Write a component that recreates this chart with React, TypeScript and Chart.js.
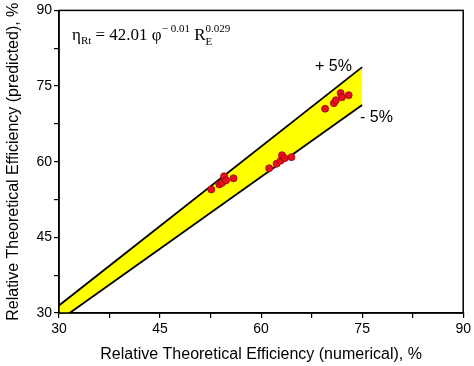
import React, { useEffect, useRef } from "react";
import { Chart, registerables } from "chart.js";

Chart.register(...registerables);

// ±5% band (x = numerical, y = predicted)
const bandX = [30, 75];
const upperY = [31.5, 78.75];
const lowerY = [28.5, 71.25];

// data points: numerical vs predicted efficiency (%)
const numerical = [52.6, 53.8, 54.2, 54.5, 54.8, 55.9, 61.2, 62.3, 62.9, 63.1, 63.5, 64.5, 69.5, 70.8, 71.1, 71.8, 72.0, 73.0];
const predicted = [54.5, 55.5, 55.8, 57.1, 56.3, 56.7, 58.7, 59.6, 60.2, 61.3, 60.7, 60.9, 70.5, 71.6, 72.2, 73.6, 72.8, 73.2];

const axisTicks = [30, 45, 60, 75, 90];

const frameAndText = {
  id: "frameAndText",
  afterDraw(chart: any) {
    const { ctx, chartArea: a } = chart;
    ctx.save();
    ctx.strokeStyle = "#000";
    ctx.lineWidth = 1.5;
    ctx.strokeRect(a.left, a.top, a.right - a.left, a.bottom - a.top);

    // equation
    const main = "17px 'Liberation Serif', 'Times New Roman', serif";
    const small = "11px 'Liberation Serif', 'Times New Roman', serif";
    ctx.fillStyle = "#000";
    ctx.textBaseline = "alphabetic";
    ctx.textAlign = "left";
    let x = 72;
    const base = 40;
    const put = (t: string, font: string, dy: number) => {
      ctx.font = font;
      ctx.fillText(t, x, base + dy);
      x += ctx.measureText(t).width;
    };
    put("η", main, 0);
    put("Rt", small, 4);
    put(" = 42.01 φ", main, 0);
    put("− 0.01", small, -8);
    put(" R", main, 0);
    const sx = x;
    ctx.font = small;
    ctx.fillText("E", sx, base + 5);
    ctx.fillText("0.029", sx, base - 8);

    // band labels
    ctx.font = "16px 'Liberation Sans', Arial, sans-serif";
    ctx.fillText("+ 5%", 315, 71);
    ctx.fillText("- 5%", 360, 122);
    ctx.restore();
  },
};

export default function App() {
  const ref = useRef<HTMLCanvasElement>(null);
  useEffect(() => {
    const tickFont = { family: "'Liberation Sans', Arial, sans-serif", size: 14 };
    const titleFont = { family: "'Liberation Sans', Arial, sans-serif", size: 16 };
    const buildTicks = (s: any) => {
      const t: any[] = [];
      for (let i = 0; i < axisTicks.length; i++) {
        t.push({ value: axisTicks[i] });
        if (i < axisTicks.length - 1) t.push({ value: (axisTicks[i] + axisTicks[i + 1]) / 2 });
      }
      s.ticks = t;
    };
    const chart = new Chart(ref.current!, {
      type: "scatter",
      data: {
        datasets: [
          {
            label: "lower",
            data: bandX.map((x, i) => ({ x, y: lowerY[i] })),
            showLine: true,
            borderColor: "#000",
            borderWidth: 1.8,
            pointRadius: 0,
            fill: false,
            order: 1,
          },
          {
            label: "upper",
            data: bandX.map((x, i) => ({ x, y: upperY[i] })),
            showLine: true,
            borderColor: "#000",
            borderWidth: 1.8,
            pointRadius: 0,
            backgroundColor: "#ffff00",
            fill: "-1",
            order: 2,
          },
          {
            label: "points",
            data: numerical.map((x, i) => ({ x, y: predicted[i] })),
            pointRadius: 3.5,
            backgroundColor: "#e3101f",
            borderColor: "#9e0010",
            borderWidth: 0.8,
            order: 0,
          },
        ],
      },
      options: {
        animation: false,
        responsive: false,
        layout: { padding: { top: 9, right: 9, left: 0, bottom: 0 } },
        plugins: { legend: { display: false }, tooltip: { enabled: false } },
        scales: {
          x: {
            type: "linear",
            min: 30,
            max: 90,
            afterFit: (s: any) => { s.height = 53; },
            afterBuildTicks: buildTicks,
            ticks: {
              color: "#000",
              font: tickFont,
              padding: 3,
              maxRotation: 0,
              autoSkip: false,
              callback: (v: any) => (axisTicks.includes(v) ? String(v) : ""),
            },
            grid: { drawOnChartArea: false, drawTicks: true, tickLength: 5, color: "#000", lineWidth: 1.2 },
            border: { color: "#000", width: 1.5 },
            title: {
              display: true,
              text: "Relative Theoretical Efficiency (numerical), %",
              color: "#000",
              font: titleFont,
              padding: { top: 0, bottom: 2 },
            },
          },
          y: {
            type: "linear",
            min: 30,
            max: 90,
            afterFit: (s: any) => { s.width = 59; },
            afterBuildTicks: buildTicks,
            ticks: {
              color: "#000",
              font: tickFont,
              padding: 2,
              autoSkip: false,
              callback: (v: any) => (axisTicks.includes(v) ? String(v) : ""),
            },
            grid: { drawOnChartArea: false, drawTicks: true, tickLength: 5, color: "#000", lineWidth: 1.2 },
            border: { color: "#000", width: 1.5 },
            title: {
              display: true,
              text: "Relative Theoretical Efficiency (predicted), %",
              color: "#000",
              font: titleFont,
              padding: { top: 4, bottom: 0 },
            },
          },
        },
      } as any,
      plugins: [frameAndText],
    });
    return () => chart.destroy();
  }, []);
  return (
    <div style={{ position: "fixed", left: 0, top: 0, width: 474, height: 366, background: "#fff" }}>
      <canvas ref={ref} width={474} height={366} style={{ width: 474, height: 366 }} />
    </div>
  );
}
